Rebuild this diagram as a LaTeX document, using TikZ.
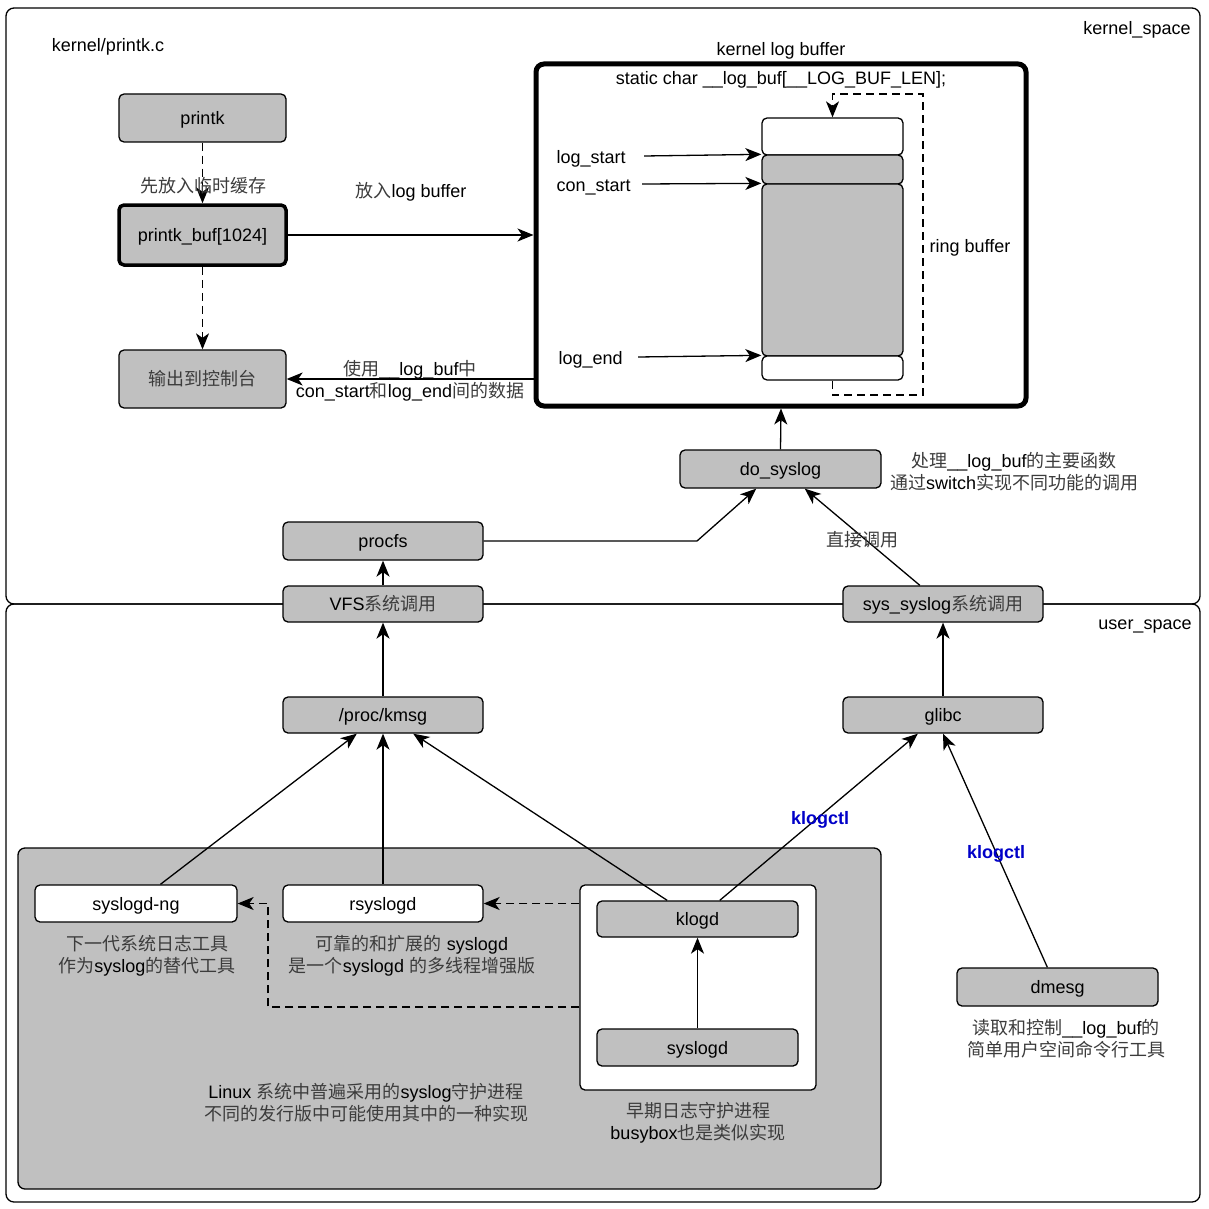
\documentclass[tikz,border=0pt]{standalone}
\usepackage{fontspec}
\setmainfont{Liberation Sans}
\newfontfamily\cjkfont{Noto Sans CJK SC}
\usetikzlibrary{arrows.meta,calc}
\definecolor{boxgray}{RGB}{192,192,192}
\definecolor{zhgray}{RGB}{60,60,60}
\definecolor{kblue}{RGB}{0,0,200}
\newcommand\zhtext[1]{{\cjkfont\color{zhgray}#1}}
\begin{document}
\begin{tikzpicture}[x=1pt,y=-1pt,
  font=\fontsize{18}{22}\selectfont,
  >={Stealth[length=16pt,width=13pt,inset=4.5pt]},
  line width=1.3pt,
  gbox/.style={draw,fill=boxgray,rounded corners=5pt,inner sep=0pt,line width=1.3pt,text height=15pt,text depth=2pt},
  wbox/.style={gbox,fill=white},
  lbl/.style={inner sep=0pt,align=center,yshift=-2pt},
  dashline/.style={dash pattern=on 8pt off 5pt}
]
\useasboundingbox (0,0) rectangle (1208,1209);
% space frames
\draw[rounded corners=8pt,line width=1.3pt] (6,8) rectangle (1200,604);
\draw[rounded corners=8pt,line width=1.3pt] (6,604) rectangle (1200,1202);
\node[lbl] (kst) at (1137,28) {kernel\_space};
\node[lbl] (ust) at (1145,625) {user\_space};
\node[lbl] (pc) at (108,45) {kernel/printk.c};

% printk side
\node[gbox,minimum width=167pt,minimum height=48pt] (printk) at (202.5,118) {printk};
\node[gbox,line width=3.5pt,minimum width=167pt,minimum height=60pt] (pbuf) at (202.5,235) {printk\_buf[1024]};
\node[gbox,minimum width=167pt,minimum height=58pt] (out) at (202.5,379) {\zhtext{输出到控制台}};
\draw[dashline,->] (printk) -- (pbuf);
\draw[dashline,->] (pbuf) -- (out);
\node[lbl] (l1) at (203,184) {\zhtext{先放入临时缓存}};

% kernel log buffer
\node[lbl] (klbt) at (781,49) {kernel log buffer};
\node[draw,line width=5pt,rounded corners=8pt,minimum width=490pt,minimum height=342pt] (klb) at (781,235) {};
\node[lbl] (sc) at (781,78) {static char \_\_log\_buf[\_\_LOG\_BUF\_LEN];};
\node[wbox,minimum width=141pt,minimum height=37pt] (c1) at (832.5,136.5) {};
\node[gbox,minimum width=141pt,minimum height=29pt] (c2) at (832.5,169.5) {};
\node[gbox,minimum width=141pt,minimum height=172pt] (c3) at (832.5,270) {};
\node[wbox,minimum width=141pt,minimum height=24pt] (c4) at (832.5,368) {};
\node[lbl,anchor=west] (lsl) at (556,157) {log\_start};
\node[lbl,anchor=west] (csl) at (556,185) {con\_start};
\node[lbl,anchor=west] (lel) at (558,358) {log\_end};
\coordinate (lsa) at (644,156);
\coordinate (csa) at (642,184);
\coordinate (lea) at (638,357);
\draw[->] (lsa) -- (c2.north west);
\draw[->] (csa) -- (c3.north west);
\draw[->] (lea) -- (c4.north west);
\coordinate (rb1) at (923,395);
\coordinate (rb2) at (923,94);
\draw[dashline,->] (c4.south) |- (rb1) -- (rb2) -| (c1.north);
\node[lbl] (rbl) at (970,246) {ring buffer};

\draw[->] (pbuf.east) -- (klb.west);
\node[lbl] (l2) at (411,190) {\zhtext{放入}log buffer};
\draw[->] (klb.west |- out.east) -- (out.east);
\node[lbl] (l3) at (410,379) {\zhtext{使用}\_\_log\_buf\zhtext{中}\\con\_start\zhtext{和}log\_end\zhtext{间的数据}};

% do_syslog
\node[gbox,minimum width=201pt,minimum height=38pt] (dosys) at (780.5,469) {do\_syslog};
\draw[->] (dosys.north) -- (klb.south);
\node[lbl] (l4) at (1014,470) {\zhtext{处理}\_\_log\_buf\zhtext{的主要函数}\\\zhtext{通过}switch\zhtext{实现不同功能的调用}};

\node[gbox,minimum width=200pt,minimum height=38pt] (procfs) at (383,541) {procfs};
\coordinate (pbend) at (697,541);
\draw[->] (procfs.east) -- (pbend) -- ($(dosys.south west)!0.38!(dosys.south east)$);

\node[gbox,minimum width=200pt,minimum height=36pt] (sys) at (943,604) {sys\_syslog\zhtext{系统调用}};
\draw[->] ($(sys.north west)!0.385!(sys.north east)$) -- ($(dosys.south west)!0.62!(dosys.south east)$);
\node[lbl] (l5) at (862,538) {\zhtext{直接调用}};

\node[gbox,minimum width=200pt,minimum height=36pt] (vfs) at (383,604) {VFS\zhtext{系统调用}};
\draw[->] (vfs.north) -- (procfs.south);

\node[gbox,minimum width=200pt,minimum height=36pt] (kmsg) at (383,715) {/proc/kmsg};
\draw[->] (kmsg.north) -- (vfs.south);
\node[gbox,minimum width=200pt,minimum height=36pt] (glibc) at (943,715) {glibc};
\draw[->] (glibc.north) -- (sys.south);

% daemons region
\node[gbox,rounded corners=7pt,minimum width=863pt,minimum height=341pt] (region) at (449.5,1018.5) {};
\node[wbox,minimum width=202pt,minimum height=37pt] (ng) at (136,903.5) {syslogd-ng};
\node[wbox,minimum width=200pt,minimum height=37pt] (rsys) at (383,903.5) {rsyslogd};
\node[wbox,minimum width=236pt,minimum height=205pt] (cont) at (698,987.5) {};
\node[gbox,minimum width=201pt,minimum height=36pt] (klogd) at (697.5,919) {klogd};
\node[gbox,minimum width=201pt,minimum height=37pt] (syslogd) at (697.5,1047.5) {syslogd};
\draw[->] (syslogd.north) -- (klogd.south);

\node[gbox,minimum width=201pt,minimum height=38pt] (dmesg) at (1057.5,987) {dmesg};

\draw[->] ($(ng.north west)!0.62!(ng.north east)$) -- ($(kmsg.south west)!0.37!(kmsg.south east)$);
\draw[->] (rsys.north) -- (kmsg.south);
\draw[->] ($(klogd.north west)!0.35!(klogd.north east)$) -- ($(kmsg.south west)!0.65!(kmsg.south east)$);
\draw[->] ($(klogd.north west)!0.61!(klogd.north east)$) -- ($(glibc.south west)!0.375!(glibc.south east)$);
\draw[->] ($(dmesg.north west)!0.45!(dmesg.north east)$) -- (glibc.south);
\node[lbl,text=kblue,font=\fontsize{18}{22}\selectfont\bfseries] (k1) at (820,818) {klogctl};
\node[lbl,text=kblue,font=\fontsize{18}{22}\selectfont\bfseries] (k2) at (996,852) {klogctl};

\draw[dashline,->] (cont.west |- rsys.east) -- (rsys.east);
\coordinate (dk) at (268,1007);
\draw[dashline,->] (cont.west |- dk) -- (dk) |- (ng.east);

\node[lbl] (t1) at (147,954) {\zhtext{下一代系统日志工具}\\\zhtext{作为}syslog\zhtext{的替代工具}};
\node[lbl] (t2) at (412,954) {\zhtext{可靠的和扩展的} syslogd\\\zhtext{是一个}syslogd \zhtext{的多线程增强版}};
\node[lbl] (t3) at (366,1101) {Linux \zhtext{系统中普遍采用的}syslog\zhtext{守护进程}\\\zhtext{不同的发行版中可能使用其中的一种实现}};
\node[lbl] (t4) at (698,1121) {\zhtext{早期日志守护进程}\\busybox\zhtext{也是类似实现}};
\node[lbl] (t5) at (1066,1037) {\zhtext{读取和控制}\_\_log\_buf\zhtext{的}\\\zhtext{简单用户空间命令行工具}};
\end{tikzpicture}
\end{document}
